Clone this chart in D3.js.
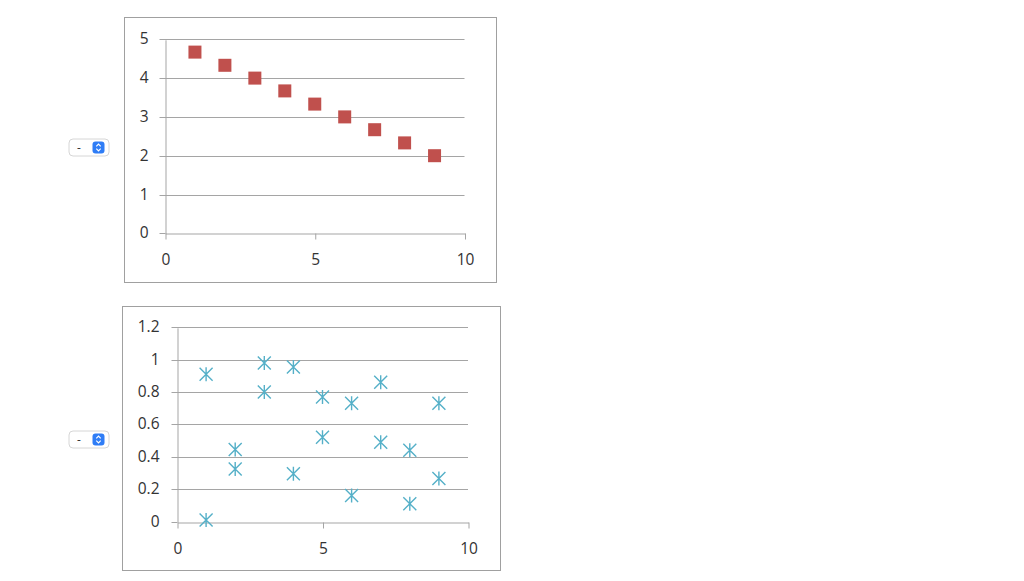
<!DOCTYPE html>
<html>
<head>
<meta charset="utf-8">
<script src="https://cdn.jsdelivr.net/npm/d3@7"></script>
<style>
body { margin: 0; background: #fff; }
svg { display: block; }
</style>
</head>
<body>
<script>
// data
var xValues = [1, 2, 3, 4, 5, 6, 7, 8, 9];
var squareValues = [4.67, 4.33, 4.0, 3.67, 3.33, 3.0, 2.67, 2.33, 2.0];
var starUpper = [0.91, 0.445, 0.98, 0.955, 0.77, 0.73, 0.86, 0.44, 0.73];
var starLower = [0.01, 0.325, 0.80, 0.295, 0.52, 0.16, 0.49, 0.11, 0.265];
var xTicks = [0, 5, 10];
var yTicksTop = [0, 1, 2, 3, 4, 5];
var yTicksBottom = [0, 0.2, 0.4, 0.6, 0.8, 1, 1.2];

var gridColor = "#a5a5a5";
var labelFont = "Open Sans, Noto Sans, sans-serif";

var svg = d3.select("body").append("svg")
    .attr("width", 1024)
    .attr("height", 581)

function fakeSelect(g, x, y) {
    g.append("rect")
        .attr("x", x).attr("y", y)
        .attr("width", 40).attr("height", 17)
        .attr("rx", 4)
        .attr("fill", "#fff")
        .attr("stroke", "#d6d6d6")
    g.append("text")
        .attr("x", x + 8).attr("y", y + 12.5)
        .attr("font-family", labelFont)
        .attr("font-size", 12)
        .attr("fill", "#333")
        .text("-")
    g.append("rect")
        .attr("x", x + 23.5).attr("y", y + 2.5)
        .attr("width", 12).attr("height", 12)
        .attr("rx", 3)
        .attr("fill", "#2f7df6")
    var cx = x + 29.5, cy = y + 8.5;
    g.append("path")
        .attr("d", "M" + (cx - 2.2) + "," + (cy - 1.2) + "L" + cx + "," + (cy - 3.4) + "L" + (cx + 2.2) + "," + (cy - 1.2)
            + "M" + (cx - 2.2) + "," + (cy + 1.2) + "L" + cx + "," + (cy + 3.4) + "L" + (cx + 2.2) + "," + (cy + 1.2))
        .attr("fill", "none")
        .attr("stroke", "#fff")
        .attr("stroke-width", 1.2)
}

function styleAxis(ax) {
    ax.attr("font-family", labelFont).attr("font-size", 15.5)
    ax.select(".domain").attr("stroke", gridColor)
    ax.selectAll(".tick line").attr("stroke", gridColor)
    ax.selectAll(".tick text").attr("fill", "#333")
}

function drawChart(opt) {
    var g = svg.append("g");
    // frame
    g.append("rect")
        .attr("x", opt.frame[0] + 0.5).attr("y", opt.frame[1] + 0.5)
        .attr("width", opt.frame[2]).attr("height", opt.frame[3])
        .attr("fill", "#fff")
        .attr("stroke", "#a0a0a0")

    var x = d3.scaleLinear().domain([0, 10]).range(opt.xRange);
    var y = d3.scaleLinear().domain(opt.yDomain).range(opt.yRange);

    // gridlines
    g.selectAll(".grid").data(opt.yTicks.filter(function(d) { return d > 0; }))
        .enter().append("line")
        .attr("x1", x(0)).attr("x2", x(10))
        .attr("y1", function(d) { return Math.round(y(d)) + 0.5; })
        .attr("y2", function(d) { return Math.round(y(d)) + 0.5; })
        .attr("stroke", gridColor)

    var yAxis = g.append("g")
        .attr("transform", "translate(" + (Math.round(x(0)) + 0.5) + ",0.5)")
        .call(d3.axisLeft(y).tickValues(opt.yTicks).tickSizeInner(6).tickSizeOuter(0).tickPadding(opt.yPad)
              .tickFormat(d3.format("")))
    styleAxis(yAxis)
    yAxis.selectAll(".tick").attr("transform", function(d) { return "translate(0," + Math.round(y(d)) + ")"; })

    var xAxis = g.append("g")
        .attr("transform", "translate(0.5," + (Math.round(y(0)) + 0.5) + ")")
        .call(d3.axisBottom(x).tickValues(xTicks).tickSizeInner(6).tickSizeOuter(0).tickPadding(14.5))
    styleAxis(xAxis)

    fakeSelect(g, opt.sel[0], opt.sel[1]);
    return {g: g, x: x, y: y};
}

var upper = drawChart({
    frame: [124, 17, 372, 265],
    xRange: [165, 464.5],
    yDomain: [0, 5],
    yRange: [233.3, 39.3],
    yTicks: yTicksTop,
    yPad: 11,
    sel: [69, 139]
});

upper.g.selectAll(".sq").data(squareValues)
    .enter().append("rect")
    .attr("x", function(d, i) { return upper.x(xValues[i]) - 6.5; })
    .attr("y", function(d) { return upper.y(d) - 6.5; })
    .attr("width", 13).attr("height", 13)
    .attr("fill", "#c0504d")

var lower = drawChart({
    frame: [122, 306, 378, 264],
    xRange: [177, 468],
    yDomain: [0, 1.2],
    yRange: [521.5, 327.3],
    yTicks: yTicksBottom,
    yPad: 12,
    sel: [69, 431]
});

var star = "M-6.5,-6.5L6.5,6.5M-6.5,6.5L6.5,-6.5M0,-7L0,7";
var starPoints = [];
xValues.forEach(function(v, i) {
    starPoints.push([v, starUpper[i]]);
    starPoints.push([v, starLower[i]]);
});
lower.g.selectAll(".star").data(starPoints)
    .enter().append("path")
    .attr("transform", function(d) { return "translate(" + lower.x(d[0]) + "," + lower.y(d[1]) + ")"; })
    .attr("d", star)
    .attr("fill", "none")
    .attr("stroke", "#55b0c8")
    .attr("stroke-width", 1.4)
</script>
</body>
</html>
